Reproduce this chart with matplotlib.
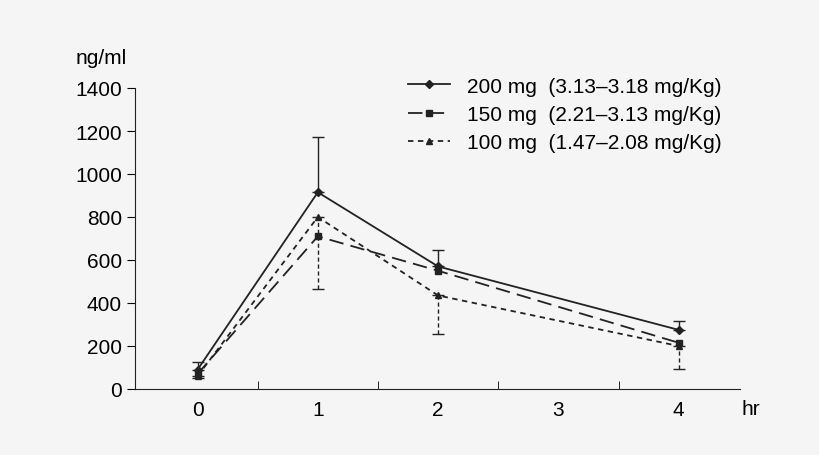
import matplotlib as mpl
mpl.use('Agg')
import matplotlib.pyplot as plt

plt.rcParams['font.family'] = ['Liberation Sans', 'DejaVu Sans']

hours = [0, 1, 2, 4]
y200 = [90, 915, 570, 275]
err200 = [35, 255, 75, 40]
y150 = [70, 710, 550, 215]
y100 = [60, 800, 435, 200]
err100 = [10, 335, 180, 105]

labels = ['200 mg  (3.13\u20133.18 mg/Kg)', '150 mg  (2.21\u20133.13 mg/Kg)', '100 mg  (1.47\u20132.08 mg/Kg)']
bg = '#f5f5f5'

fig = plt.figure(figsize=(8.2, 4.56), dpi=100, facecolor=bg)
ax = fig.add_axes([135/820, 1-390/456, 605/820, 301/456], facecolor=bg)

#Error bars: 200 mg upward, 100 mg downward
ax.errorbar(hours, y200, yerr=[[0]*4, err200], fmt='none', ecolor='#222', elinewidth=1, capsize=4)
eb = ax.errorbar(hours, y100, yerr=[err100, [0]*4], fmt='none', ecolor='#222', elinewidth=1, capsize=4)
eb[2][0].set_linestyle((0, (3, 2)))

ax.plot(hours, y200, '-', color='#222', lw=1.3, marker='D', ms=4, label=labels[0])
ax.plot(hours, y150, color='#222', lw=1.3, ls=(0, (8, 4)), marker='s', ms=5, label=labels[1])
ax.plot(hours, y100, color='#222', lw=1.3, ls=(0, (3, 2.5)), marker='^', ms=5, label=labels[2])

ax.set_xlim(-0.52, 4.51)
ax.set_ylim(0, 1400)
ax.set_yticks(range(0, 1401, 200))
ax.set_xticks([0, 1, 2, 3, 4])
ax.set_xticks([0.5, 1.5, 2.5, 3.5], minor=True)
ax.tick_params(axis='x', which='major', length=0, labelsize=15, pad=8)
ax.tick_params(axis='x', which='minor', direction='in', length=6)
ax.tick_params(axis='y', direction='out', length=6, labelsize=15)
for s in ['top', 'right']:
    ax.spines[s].set_visible(False)
for s in ['left', 'bottom']:
    ax.spines[s].set_color('#222')

ax.text(-0.8, 1500, 'ng/ml', fontsize=15, ha='center', va='bottom')
ax.text(4.6, -45, 'hr', fontsize=15, ha='center', va='top')

ax.legend(loc='upper right', bbox_to_anchor=(1.0, 1.1), frameon=False, fontsize=15,
          handlelength=2.0, labelspacing=0.45)

plt.savefig('out.png', dpi=100, facecolor=bg)
plt.close()
